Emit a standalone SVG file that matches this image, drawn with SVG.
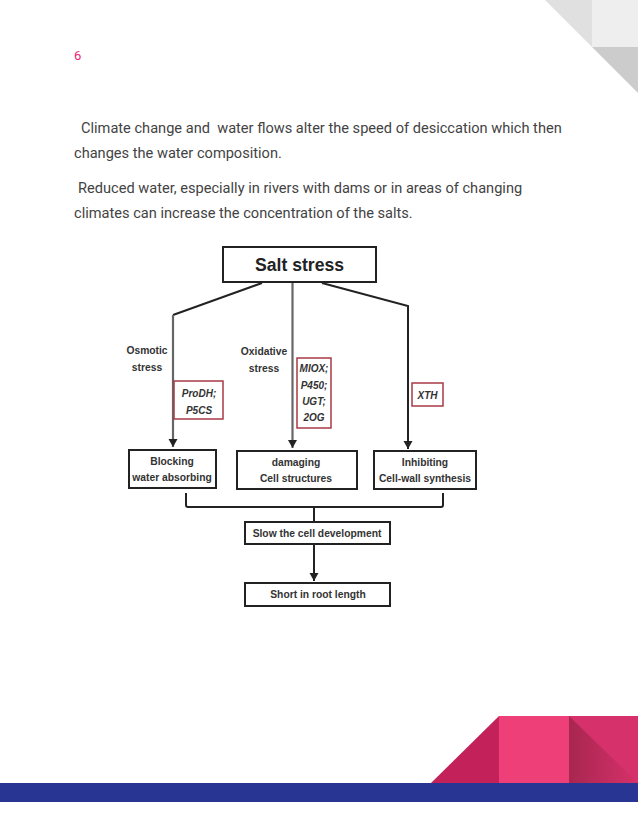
<svg xmlns="http://www.w3.org/2000/svg" width="638" height="826" viewBox="0 0 638 826">
<style>
.body{font-family:Roboto,"Liberation Sans",sans-serif;font-size:14.6px;fill:#434343;white-space:pre}
.lab{font-family:"Liberation Sans",Arial,sans-serif;font-weight:bold;font-size:10.3px;fill:#333;text-anchor:middle}
.gene{font-family:"Liberation Sans",Arial,sans-serif;font-weight:bold;font-style:italic;font-size:10px;fill:#333;text-anchor:middle}
.box{fill:#fff;stroke:#222;stroke-width:2}
.red{fill:#fff;stroke:#a83a45;stroke-width:1.5}
.line{fill:none;stroke:#222;stroke-width:2}
.grey{fill:none;stroke:#666;stroke-width:2.2}
</style>
<defs>
<marker id="arr" markerUnits="userSpaceOnUse" markerWidth="10" markerHeight="10" refX="8" refY="5" orient="auto"><path d="M0 0.500L8 5L0 9.500Z" fill="#222"/></marker>
<linearGradient id="shade" x1="0" y1="0" x2="1" y2="0"><stop offset="0" stop-color="#a82650"/><stop offset="1" stop-color="#d6316a"/></linearGradient>
</defs>
<rect width="638" height="826" fill="#fff"/>
<g id="page-decor">
<polygon points="545,0 592,47 592,0" fill="#e0e0e0"/>
<rect x="592" y="0" width="46" height="47" fill="#eeeeee"/>
<polygon points="592,47 638,47 638,93" fill="#cccccc"/>
<polygon points="431,783 499,716 499,783" fill="#c2215a"/>
<rect x="499" y="716" width="70" height="67" fill="#ee3f78"/>
<rect x="569" y="716" width="69" height="67" fill="#d6316a"/>
<polygon points="569,716 638,783 569,783" fill="url(#shade)"/>
<rect x="0" y="783" width="638" height="19" fill="#283593"/>
</g>
<text x="74" y="60" font-family="Roboto,'Liberation Sans',sans-serif" font-size="13px" fill="#e91e73">6</text>
<g id="body-text">
<text class="body" x="81" y="133">Climate change and  water flows alter the speed of desiccation which then</text>
<text class="body" x="74" y="158">changes the water composition.</text>
<text class="body" x="78" y="193">Reduced water, especially in rivers with dams or in areas of changing</text>
<text class="body" x="74" y="218">climates can increase the concentration of the salts.</text>
</g>
<g id="connectors">
<path class="line" d="M262 283L173 315"/>
<path class="grey" d="M173 315V447" marker-end="url(#arr)"/>
<path class="grey" d="M292.500 283V448" marker-end="url(#arr)"/>
<path class="line" d="M322 283L408 306V449" marker-end="url(#arr)"/>
<path class="line" stroke-width="2.500" d="M186 493V505Q186 507 188 507H441Q443 507 443 505V493"/>
<path class="line" d="M314 507V521"/>
<path class="line" d="M314 544V581" marker-end="url(#arr)"/>
</g>
<g id="salt-stress"><rect class="box" x="223" y="247" width="153" height="35"/><text x="299.500" y="271" font-family="'Liberation Sans',Arial,sans-serif" font-weight="bold" font-size="17.6px" fill="#222" text-anchor="middle">Salt stress</text></g>
<g id="osmotic"><text class="lab" x="147" y="354">Osmotic</text><text class="lab" x="147" y="371">stress</text></g>
<g id="oxidative"><text class="lab" x="264" y="355">Oxidative</text><text class="lab" x="264" y="372">stress</text></g>
<g id="prodh"><rect class="red" x="174" y="381" width="49" height="38"/><text class="gene" x="199" y="397">ProDH;</text><text class="gene" x="199" y="414">P5CS</text></g>
<g id="miox"><rect class="red" x="297" y="358" width="34" height="70"/><text class="gene" x="314" y="372">MIOX;</text><text class="gene" x="314" y="389">P450;</text><text class="gene" x="314" y="405">UGT;</text><text class="gene" x="314" y="421">2OG</text></g>
<g id="xth"><rect class="red" x="412" y="383" width="31" height="23"/><text class="gene" x="427.500" y="399">XTH</text></g>
<g id="blocking"><rect class="box" x="129" y="450" width="87" height="38"/><text class="lab" x="172" y="465">Blocking</text><text class="lab" x="172" y="481">water absorbing</text></g>
<g id="damaging"><rect class="box" x="237" y="451" width="120" height="38"/><text class="lab" x="296" y="466">damaging</text><text class="lab" x="296" y="482">Cell structures</text></g>
<g id="inhibiting"><rect class="box" x="374" y="451" width="102" height="38"/><text class="lab" x="425" y="466">Inhibiting</text><text class="lab" x="425" y="482">Cell-wall synthesis</text></g>
<g id="slow"><rect class="box" x="245" y="522" width="145" height="22"/><text class="lab" x="317" y="537">Slow the cell development</text></g>
<g id="short"><rect class="box" x="245" y="583" width="145" height="23"/><text class="lab" x="318" y="598">Short in root length</text></g>
</svg>
